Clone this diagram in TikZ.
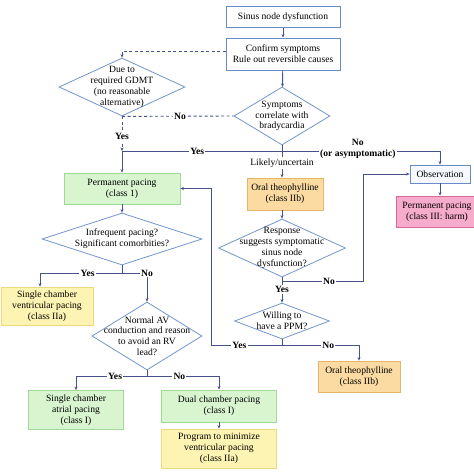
\documentclass[tikz,border=0pt]{standalone}
\usepackage{fontspec}
\setmainfont{Liberation Serif}
\usetikzlibrary{arrows.meta,shapes.geometric}
\definecolor{conn}{RGB}{72,80,138}
\definecolor{bblue}{RGB}{105,140,200}
\definecolor{dblue}{RGB}{115,150,205}
\definecolor{gfill}{RGB}{216,245,207}
\definecolor{gline}{RGB}{160,218,150}
\definecolor{ofill}{RGB}{252,219,162}
\definecolor{oline}{RGB}{228,182,104}
\definecolor{yfill}{RGB}{253,243,178}
\definecolor{yline}{RGB}{236,216,125}
\definecolor{pfill}{RGB}{246,172,202}
\definecolor{pline}{RGB}{214,104,152}
\definecolor{wfill}{RGB}{246,249,255}
\tikzset{
  txt/.style={font=\fontsize{9.6}{10.8}\selectfont, align=center, inner sep=0pt},
  box/.style={txt, draw, rectangle, line width=0.8pt},
  whitebox/.style={box, draw=bblue, fill=white},
  obsbox/.style={box, draw=bblue, fill=wfill},
  greenbox/.style={box, draw=gline, fill=gfill},
  orangebox/.style={box, draw=oline, fill=ofill},
  yellowbox/.style={box, draw=yline, fill=yfill},
  pinkbox/.style={box, draw=pline, fill=pfill},
  dia/.style={draw=dblue, line width=0.8pt, shape=diamond, inner sep=0pt, fill=white},
  connline/.style={draw=conn, line width=0.9pt},
  arr/.style={connline, -{Stealth[length=3.5pt,width=3pt]}},
  dashline/.style={connline, dash pattern=on 3pt off 2.5pt},
  lbl/.style={font=\fontsize{9.6}{10.8}\selectfont\bfseries, fill=white, inner sep=1.2pt, align=center, text=black},
  plbl/.style={font=\fontsize{9.6}{10.8}\selectfont, fill=white, inner sep=1.2pt, text=black},
}
\begin{document}
\begin{tikzpicture}[x=1pt,y=-1pt]
\useasboundingbox (0,0) rectangle (474,474);
\clip (0,0) rectangle (474,474);
\fill[white] (0,0) rectangle (474,474);

% boxes
\node[whitebox, minimum width=114pt, minimum height=21pt] (sinus) at (283,17) {Sinus node dysfunction};
\node[whitebox, minimum width=114pt, minimum height=32pt] (confirm) at (283,54) {Confirm symptoms\\Rule out reversible causes};
\node[dia, minimum width=96pt, minimum height=58pt] (symp) at (282,116) {};
\node[txt] (sympt) at (symp) {Symptoms\\correlate with\\bradycardia};
\node[dia, minimum width=126pt, minimum height=58pt] (gdmt) at (122,87) {};
\node[txt] (gdmtt) at (gdmt) {Due to\\required GDMT\\(no reasonable\\alternative)};
\node[greenbox, minimum width=116pt, minimum height=31pt] (ppace) at (122,188.5) {Permanent pacing\\(class 1)};
\node[orangebox, minimum width=76pt, minimum height=32pt] (oral1) at (285,194) {Oral theophylline\\(class IIb)};
\node[dia, minimum width=127pt, minimum height=58pt] (resp) at (282,248) {};
\node[txt] (respt) at (resp) {Response\\suggests symptomatic\\sinus node\\dysfunction?};
\node[dia, minimum width=95pt, minimum height=36pt] (will) at (282,321) {};
\node[txt] (willt) at (will) {Willing to\\have a PPM?};
\node[obsbox, minimum width=60pt, minimum height=18pt] (obs) at (440,174) {Observation};
\node[pinkbox, minimum width=82pt, minimum height=31pt] (pp3) at (437,211.5) {Permanent pacing\\(class III: harm)};
\node[orangebox, minimum width=82pt, minimum height=31pt] (oral2) at (359,376.5) {Oral theophylline\\(class IIb)};
\node[dia, minimum width=160pt, minimum height=52pt] (infreq) at (122,239) {};
\node[txt] (infreqt) at (infreq) {Infrequent pacing?\\Significant comorbities?};
\node[yellowbox, minimum width=92pt, minimum height=38pt] (sv) at (47,306) {Single chamber\\ventricular pacing\\(class IIa)};
\node[dia, minimum width=110pt, minimum height=68pt] (nav) at (147,336) {};
\node[txt] (navt) at (nav) {Normal AV\\conduction and reason\\to avoid an RV\\lead?};
\node[greenbox, minimum width=95pt, minimum height=39pt] (sa) at (76,410) {Single chamber\\atrial pacing\\(class I)};
\node[greenbox, minimum width=115pt, minimum height=32pt] (dual) at (219,406) {Dual chamber pacing\\(class I)};
\node[yellowbox, minimum width=115pt, minimum height=39pt] (prog) at (219,448.5) {Program to minimize\\ventricular pacing\\(class IIa)};

% junction coordinates
\coordinate (j1) at (122,151);
\coordinate (j2) at (282,151);
\coordinate (j3) at (282,281);
\coordinate (cno) at (363,281);
\coordinate (j4) at (282,345);
\coordinate (cyes) at (211,345);
\coordinate (j5) at (122,273);
\coordinate (csv) at (40,273);
\coordinate (cnav) at (147,273);
\coordinate (j6) at (147,376);
\coordinate (csa) at (76,376);
\coordinate (cdual) at (219,376);

% connectors
\draw[arr] (sinus) -- (confirm);
\draw[arr] (confirm) -- (symp);
\draw[dashline, -{Stealth[length=3.5pt,width=3pt]}] ([yshift=3pt]confirm.west) -| (gdmt.north);
\draw[dashline] (gdmt.south) -- node[lbl, pos=0.52]{No} (symp.west);
\draw[dashline, -{Stealth[length=3.5pt,width=3pt]}] (gdmt.south) -- node[lbl, pos=0.58]{Yes} (j1);
\draw[connline] (symp.south) -- (j2);
\draw[arr] (j2) -- node[lbl, pos=0.53]{Yes} (j1) -- (ppace.north);
\draw[arr] (j2) -- node[lbl, pos=0.48, yshift=2pt]{No\\(or asymptomatic)} (j2 -| obs.north) -- (obs.north);
\draw[arr] (j2) -- node[plbl, pos=0.45]{Likely/uncertain} (j2 |- oral1.north);
\draw[arr] (j2 |- oral1.south) -- (resp.north);
\draw[connline] (resp.south) -- (j3);
\draw[arr] (j3) -- node[lbl, pos=0.58]{No} (cno) |- (obs.west);
\draw[arr] (j3) -- node[lbl, pos=0.4]{Yes} (will.north);
\draw[connline] (will.south) -- (j4);
\draw[arr] (j4) -- node[lbl, pos=0.6]{Yes} (cyes) |- (ppace.east);
\draw[arr] (j4) -- node[lbl, pos=0.6]{No} (j4 -| oral2.north) -- (oral2.north);
\draw[arr] (obs.south) -- (obs.south |- pp3.north);
\draw[arr] (ppace) -- (infreq);
\draw[connline] (infreq.south) -- (j5);
\draw[arr] (j5) -- node[lbl, pos=0.42]{Yes} (csv) -- (csv |- sv.north);
\draw[arr] (j5) -- (cnav) node[lbl]{No} -- (nav.north);
\draw[connline] (nav.south) -- (j6);
\draw[arr] (j6) -- node[lbl, pos=0.45]{Yes} (csa) -- (sa.north);
\draw[arr] (j6) -- node[lbl, pos=0.45]{No} (cdual) -- (dual.north);
\draw[arr] (dual) -- (prog);
\end{tikzpicture}
\end{document}
